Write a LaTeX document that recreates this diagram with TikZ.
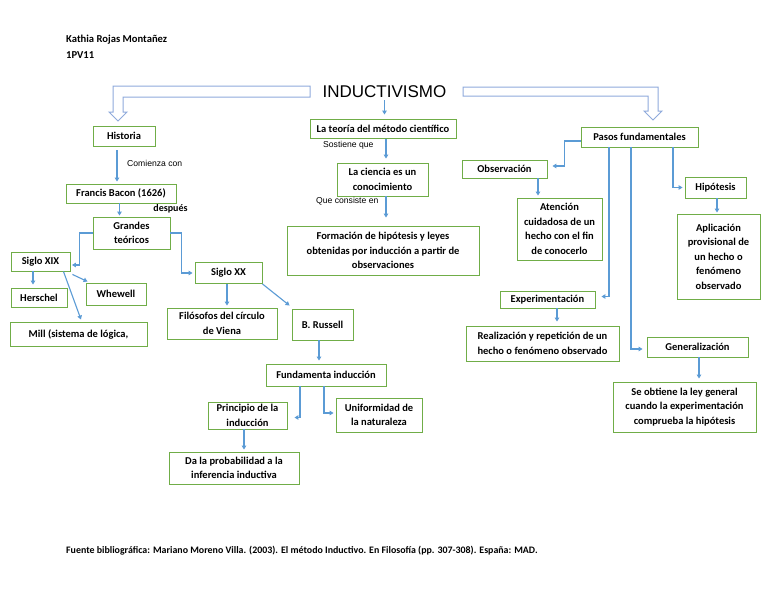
\documentclass[tikz,border=0pt]{standalone}
\usepackage{fontspec}
\setmainfont{Carlito}
\newfontfamily\arialf{Liberation Sans}
\usetikzlibrary{arrows.meta,calc}
\definecolor{boxgreen}{HTML}{70AD47}
\definecolor{connblue}{HTML}{5B9BD5}
\definecolor{bigblue}{HTML}{8FAADC}
\tikzset{
  box/.style={draw=boxgreen, line width=0.9pt, fill=white, align=center, inner sep=1pt,
    font=\bfseries\fontsize{10.5}{14.5}\selectfont},
  conn/.style={draw=connblue, line width=1.1pt, -{Triangle[length=4pt,width=4.5pt]}},
  lbl/.style={font=\arialf\fontsize{8.6}{10}\selectfont, inner sep=0pt, anchor=west},
  bigarrow/.style={draw=bigblue, line width=1pt, fill=white, line join=miter}
}
\begin{document}
\begin{tikzpicture}[x=1pt,y=-1pt]
\useasboundingbox (0,0) rectangle (768,594);
\fill[white] (0,0) rectangle (768,594);

% header
\node[anchor=west, inner sep=0pt, font=\bfseries\fontsize{10.6}{12}\selectfont] (author) at (66,40) {Kathia Rojas Montañez};
\node[anchor=west, inner sep=0pt, font=\bfseries\fontsize{10.6}{12}\selectfont] (group) at (66,55) {1PV11};

% title
\node[inner sep=0pt, font=\arialf\fontsize{17}{20}\selectfont] (title) at (384.5,92) {INDUCTIVISMO};

% big hollow arrows
\path[bigarrow] (310,86) -- (113,86) -- (113,112) -- (109,112) -- (118,121) -- (127,112) -- (123,112) -- (123,97) -- (310,97) -- cycle;
\path[bigarrow] (463,87) -- (658,87) -- (658,111) -- (662,111) -- (653,120) -- (644,111) -- (648,111) -- (648,96) -- (463,96) -- cycle;

% left branch
\node[box, minimum width=62, minimum height=20] (hist) at (124,136) {Historia};
\node[box, minimum width=110, minimum height=19] (bacon) at (121,193.5) {Francis Bacon (1626)};
\node[box, minimum width=77, minimum height=32] (grandes) at (131.5,233) {Grandes\\teóricos};
\node[box, minimum width=59, minimum height=19] (s19) at (40.5,261.5) {Siglo XIX};
\node[box, minimum width=56, minimum height=19] (hersch) at (39,297.5) {Herschel};
\node[box, minimum width=60, minimum height=22] (whew) at (116,294) {Whewell};
\node[box, minimum width=137, minimum height=24] (mill) at (78.5,334) {Mill (sistema de lógica,};
\node[box, minimum width=67, minimum height=21] (s20) at (228.5,273) {Siglo XX};
\node[box, minimum width=110, minimum height=31] (filo) at (222,323.5) {Filósofos del círculo\\de Viena};
\node[box, minimum width=61, minimum height=31] (russ) at (322.5,324.5) {B. Russell};
\node[box, minimum width=120, minimum height=22] (fund) at (326,375) {Fundamenta inducción};
\node[box, minimum width=79, minimum height=27] (princ) at (247.5,415.5) {Principio de la\\inducción};
\node[box, minimum width=86, minimum height=34] (unif) at (379,415) {Uniformidad de\\la naturaleza};
\node[box, minimum width=130, minimum height=32] (proba) at (234,468) {Da la probabilidad a la\\inferencia inductiva};

\node[lbl] (lcom) at (127,163) {Comienza con};
\node[inner sep=0pt, font=\bfseries\fontsize{10}{11}\selectfont] (ldesp) at (170.5,209) {después};

\draw[conn] ([xshift=-7pt,yshift=-4pt]hist.south) -- ([xshift=-7pt,yshift=2pt]hist.south |- bacon.north);
\draw[conn] ([xshift=-1.5pt]bacon.south) -- ([xshift=-1.5pt,yshift=1pt]bacon.south |- grandes.north);
\draw[conn] (grandes.west) -- ++(-13,0) |- ([yshift=-3.5pt,xshift=1.5pt]s19.east);
\draw[conn] (grandes.east) -- ++(11,0) |- ([xshift=-2pt]s20.west);
\draw[conn] ([xshift=-7.5pt]s19.south) -- ([xshift=-7.5pt,yshift=3pt]s19.south |- hersch.north);
\draw[conn] ([xshift=2pt,yshift=-3pt]s19.south east) -- ([xshift=2pt,yshift=1pt]whew.north west);
\draw[conn] ([xshift=-7pt]s19.south east) -- ([xshift=2.5pt,yshift=2pt]mill.north);
\draw[conn] ([xshift=-1.5pt]s20.south) -- ([xshift=-1.5pt,yshift=2pt]s20.south |- filo.north);
\draw[conn] (s20.south east) -- ([xshift=-2pt,yshift=3pt]russ.north west);
\draw[conn] ([xshift=-3.5pt]russ.south) -- ([xshift=-3.5pt,yshift=3pt]russ.south |- fund.north);
\draw[conn] ([xshift=-26pt]fund.south) |- ([xshift=7pt,yshift=-2pt]princ.east);
\draw[conn] ([xshift=-2pt]fund.south) |- ([xshift=-2pt,yshift=2pt]unif.west);
\draw[conn] ([xshift=-3.5pt]princ.south) -- ([xshift=-3.5pt,yshift=2pt]princ.south |- proba.north);

% middle branch
\node[box, minimum width=146, minimum height=19] (teoria) at (383,128.5) {La teoría del método científico};
\node[box, minimum width=91, minimum height=33] (ciencia) at (382.5,179.5) {La ciencia es un\\conocimiento};
\node[box, minimum width=192, minimum height=49] (form) at (383,250.5) {Formación de hipótesis y leyes\\obtenidas por inducción a partir de\\observaciones};
\node[lbl] (lsost) at (323,145.5) {Sostiene que};
\node[lbl] (lcons) at (316,201) {Que consiste en};

\draw[conn] ([yshift=-2pt]title.south) -- ([yshift=4pt]title.south |- teoria.north);
\draw[conn] ([xshift=3pt,yshift=-1pt]teoria.south) -- ([xshift=3pt,yshift=4pt]teoria.south |- ciencia.north);
\draw[conn] ([xshift=3.5pt]ciencia.south) -- ([xshift=3.5pt,yshift=8pt]ciencia.south |- form.north);

% right branch
\node[box, minimum width=117, minimum height=20] (pasos) at (639.5,137) {Pasos fundamentales};
\node[box, minimum width=85, minimum height=18] (obs) at (504.5,169) {Observación};
\node[box, minimum width=85, minimum height=62] (aten) at (559.5,229) {Atención\\cuidadosa de un\\hecho con el fin\\de conocerlo};
\node[box, minimum width=61, minimum height=21] (hip) at (715.5,187.5) {Hipótesis};
\node[box, minimum width=83, minimum height=85] (apl) at (718.5,256.5) {Aplicación\\provisional de\\un hecho o\\fenómeno\\observado};
\node[box, minimum width=95, minimum height=17] (exper) at (547.5,299.5) {Experimentación};
\node[box, minimum width=153, minimum height=35] (real) at (542.5,343.5) {Realización y repetición de un\\hecho o fenómeno observado};
\node[box, minimum width=101, minimum height=20] (gen) at (697.5,347) {Generalización};
\node[box, minimum width=143, minimum height=50] (seob) at (684.5,407) {Se obtiene la ley general\\cuando la experimentación\\comprueba la hipótesis};

\draw[conn] ([yshift=-4pt]pasos.west) -- ++(-16,0) |- ([xshift=5pt,yshift=3pt]obs.east);
\draw[conn] ([xshift=33.5pt]obs.south) -- ([xshift=33.5pt,yshift=2pt]obs.south |- aten.north);
\draw[conn] ([xshift=-30.5pt]pasos.south) |- ([xshift=6pt,yshift=3pt]exper.east);
\draw[conn] ([xshift=-8.5pt]pasos.south) |- ([xshift=-4pt,yshift=-2pt]gen.west);
\draw[conn] ([xshift=33.5pt]pasos.south) |- ([xshift=-2pt]hip.west);
\draw[conn] ([xshift=1.5pt]hip.south) -- ([xshift=1.5pt,yshift=1pt]hip.south |- apl.north);
\draw[conn] ([xshift=9.5pt]exper.south) -- ([xshift=9.5pt,yshift=4pt]exper.south |- real.north);
\draw[conn] ([xshift=1.5pt]gen.south) -- ([xshift=1.5pt,yshift=3pt]gen.south |- seob.north);

% footer
\node[anchor=west, inner sep=0pt, font=\bfseries\fontsize{9.9}{12}\selectfont] (src) at (66,551) {Fuente bibliográfica: Mariano Moreno Villa. (2003). El método Inductivo. En Filosofía (pp. 307-308). España: MAD.};
\end{tikzpicture}
\end{document}
